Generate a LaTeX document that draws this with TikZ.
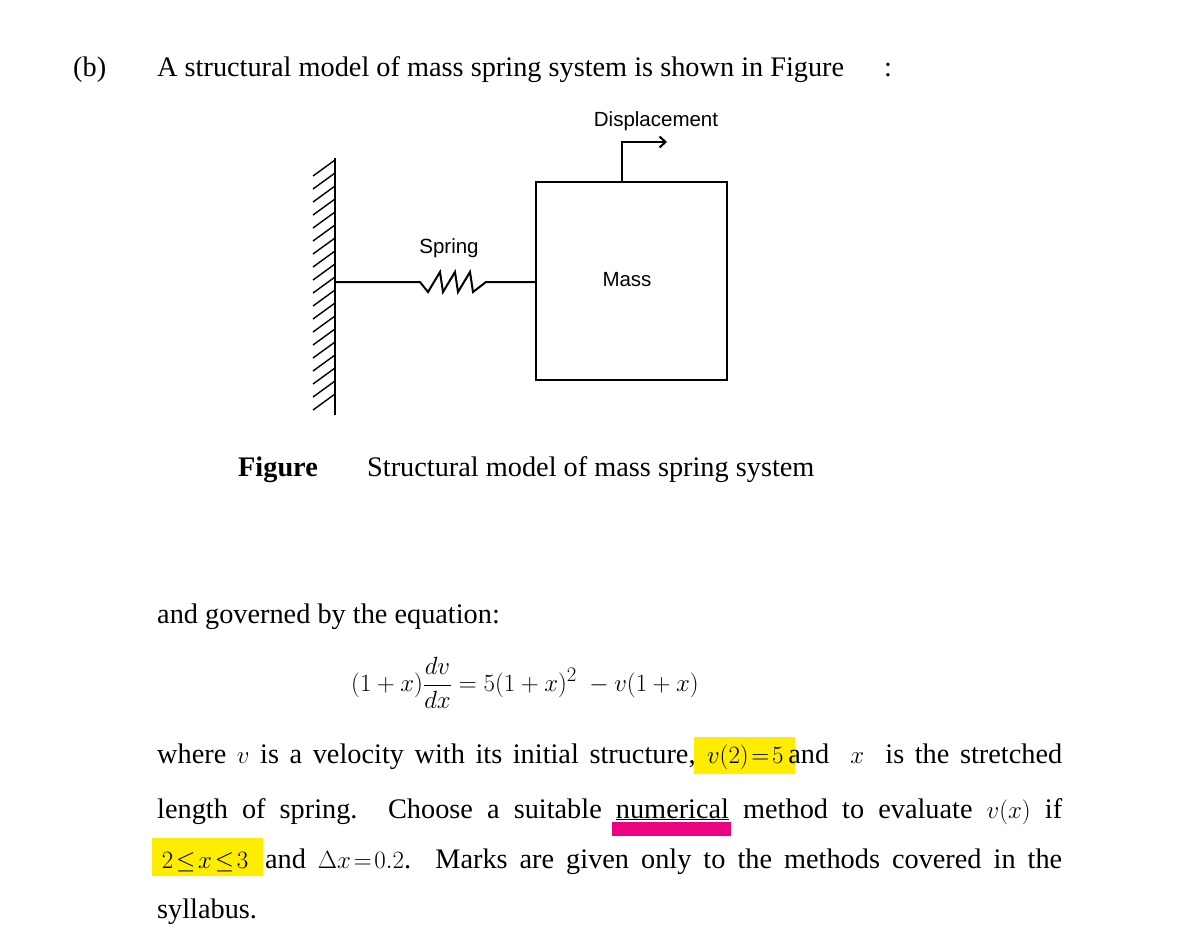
\documentclass[tikz,border=0pt]{standalone}
\usepackage{fontspec}
\setmainfont{Liberation Serif}
\newfontfamily\labelfont{Liberation Sans}
\usetikzlibrary{arrows.meta}
\tikzset{
  body/.style={anchor=base west,inner sep=0pt,font=\fontsize{28.3}{32}\selectfont},
  lab/.style={inner sep=0pt,font=\labelfont\fontsize{20.5}{24}\selectfont},
  mech/.style={line width=2pt,line join=miter},
}
\begin{document}
\begin{tikzpicture}[x=1pt,y=-1pt]
\useasboundingbox (0,0) rectangle (1195,932);
% highlights
\fill[yellow!90!orange!60!yellow] (694,737) rectangle (795,774);
\fill[yellow!90!orange!60!yellow] (152,838) rectangle (263,876);
\fill[magenta!90!red] (612,822) rectangle (731,836);
% header
\node[body] (b) at (73,76) {(b)};
\node[body] (title) at (157,76) {A structural model of mass spring system is shown in Figure};
\node[body] (colon) at (884,76) {:};
% wall
\draw[mech] (335,158) -- (335,415);
\foreach \yy in {160,173,...,405} \draw[line width=1.4pt] (335,\yy) -- (313,\yy+16);
% spring and line
\coordinate (w) at (335,282);
\coordinate (s1) at (420,282);
\coordinate (s2) at (486,282);
\draw[mech] (w) -- (s1) -- (428,292) -- (440,272) -- (443,292) -- (455,272) -- (458,292) -- (470,272) -- (473,292) -- (s2) -- (536,282);
% mass
\node[draw,mech,minimum width=191,minimum height=198,inner sep=0pt] (mass) at (631.5,281) {};
\node[lab] (masslab) at (627,280) {Mass};
\node[lab] (springlab) at (449,248) {Spring};
\coordinate (d1) at (622,142);
\draw[mech,-{Straight Barb[length=6pt,width=11pt]}] (mass.north -| d1) -- (d1) -- (667,142);
\node[lab] (displab) at (656,121) {Displacement};
% caption
\node[body] (fig) at (238,476) {\textbf{Figure}};
\node[body] (cap) at (367,476) {Structural model of mass spring system};
\node[body] (gov) at (157,623) {and governed by the equation:};
\node[inner sep=0pt,font=\fontsize{29}{32}\selectfont] (eq) at (525,683) {$\displaystyle (1+x)\frac{dv}{dx}=5(1+x)^2\;-v(1+x)$};
% paragraph
\node[body] (l1) at (157,763) {\makebox[905pt][s]{where \mbox{$v$} is a velocity with its initial structure, \mbox{$v(2)\!=\!5$}\,and \ \mbox{$x$} \ is the stretched}};
\node[body] (l2) at (157,818) {\makebox[905pt][s]{length of spring. Choose a suitable \underline{numerical} method to evaluate \mbox{$v(x)$} if}};
\node[body] (l3) at (157,868) {\makebox[905pt][s]{\,\mbox{$2\!\le\! x\!\le\! 3$}\, and \mbox{$\Delta x\!=\!0.2$}. Marks are given only to the methods covered in the}};
\node[body] (l4) at (157,918) {syllabus.};
\end{tikzpicture}
\end{document}
